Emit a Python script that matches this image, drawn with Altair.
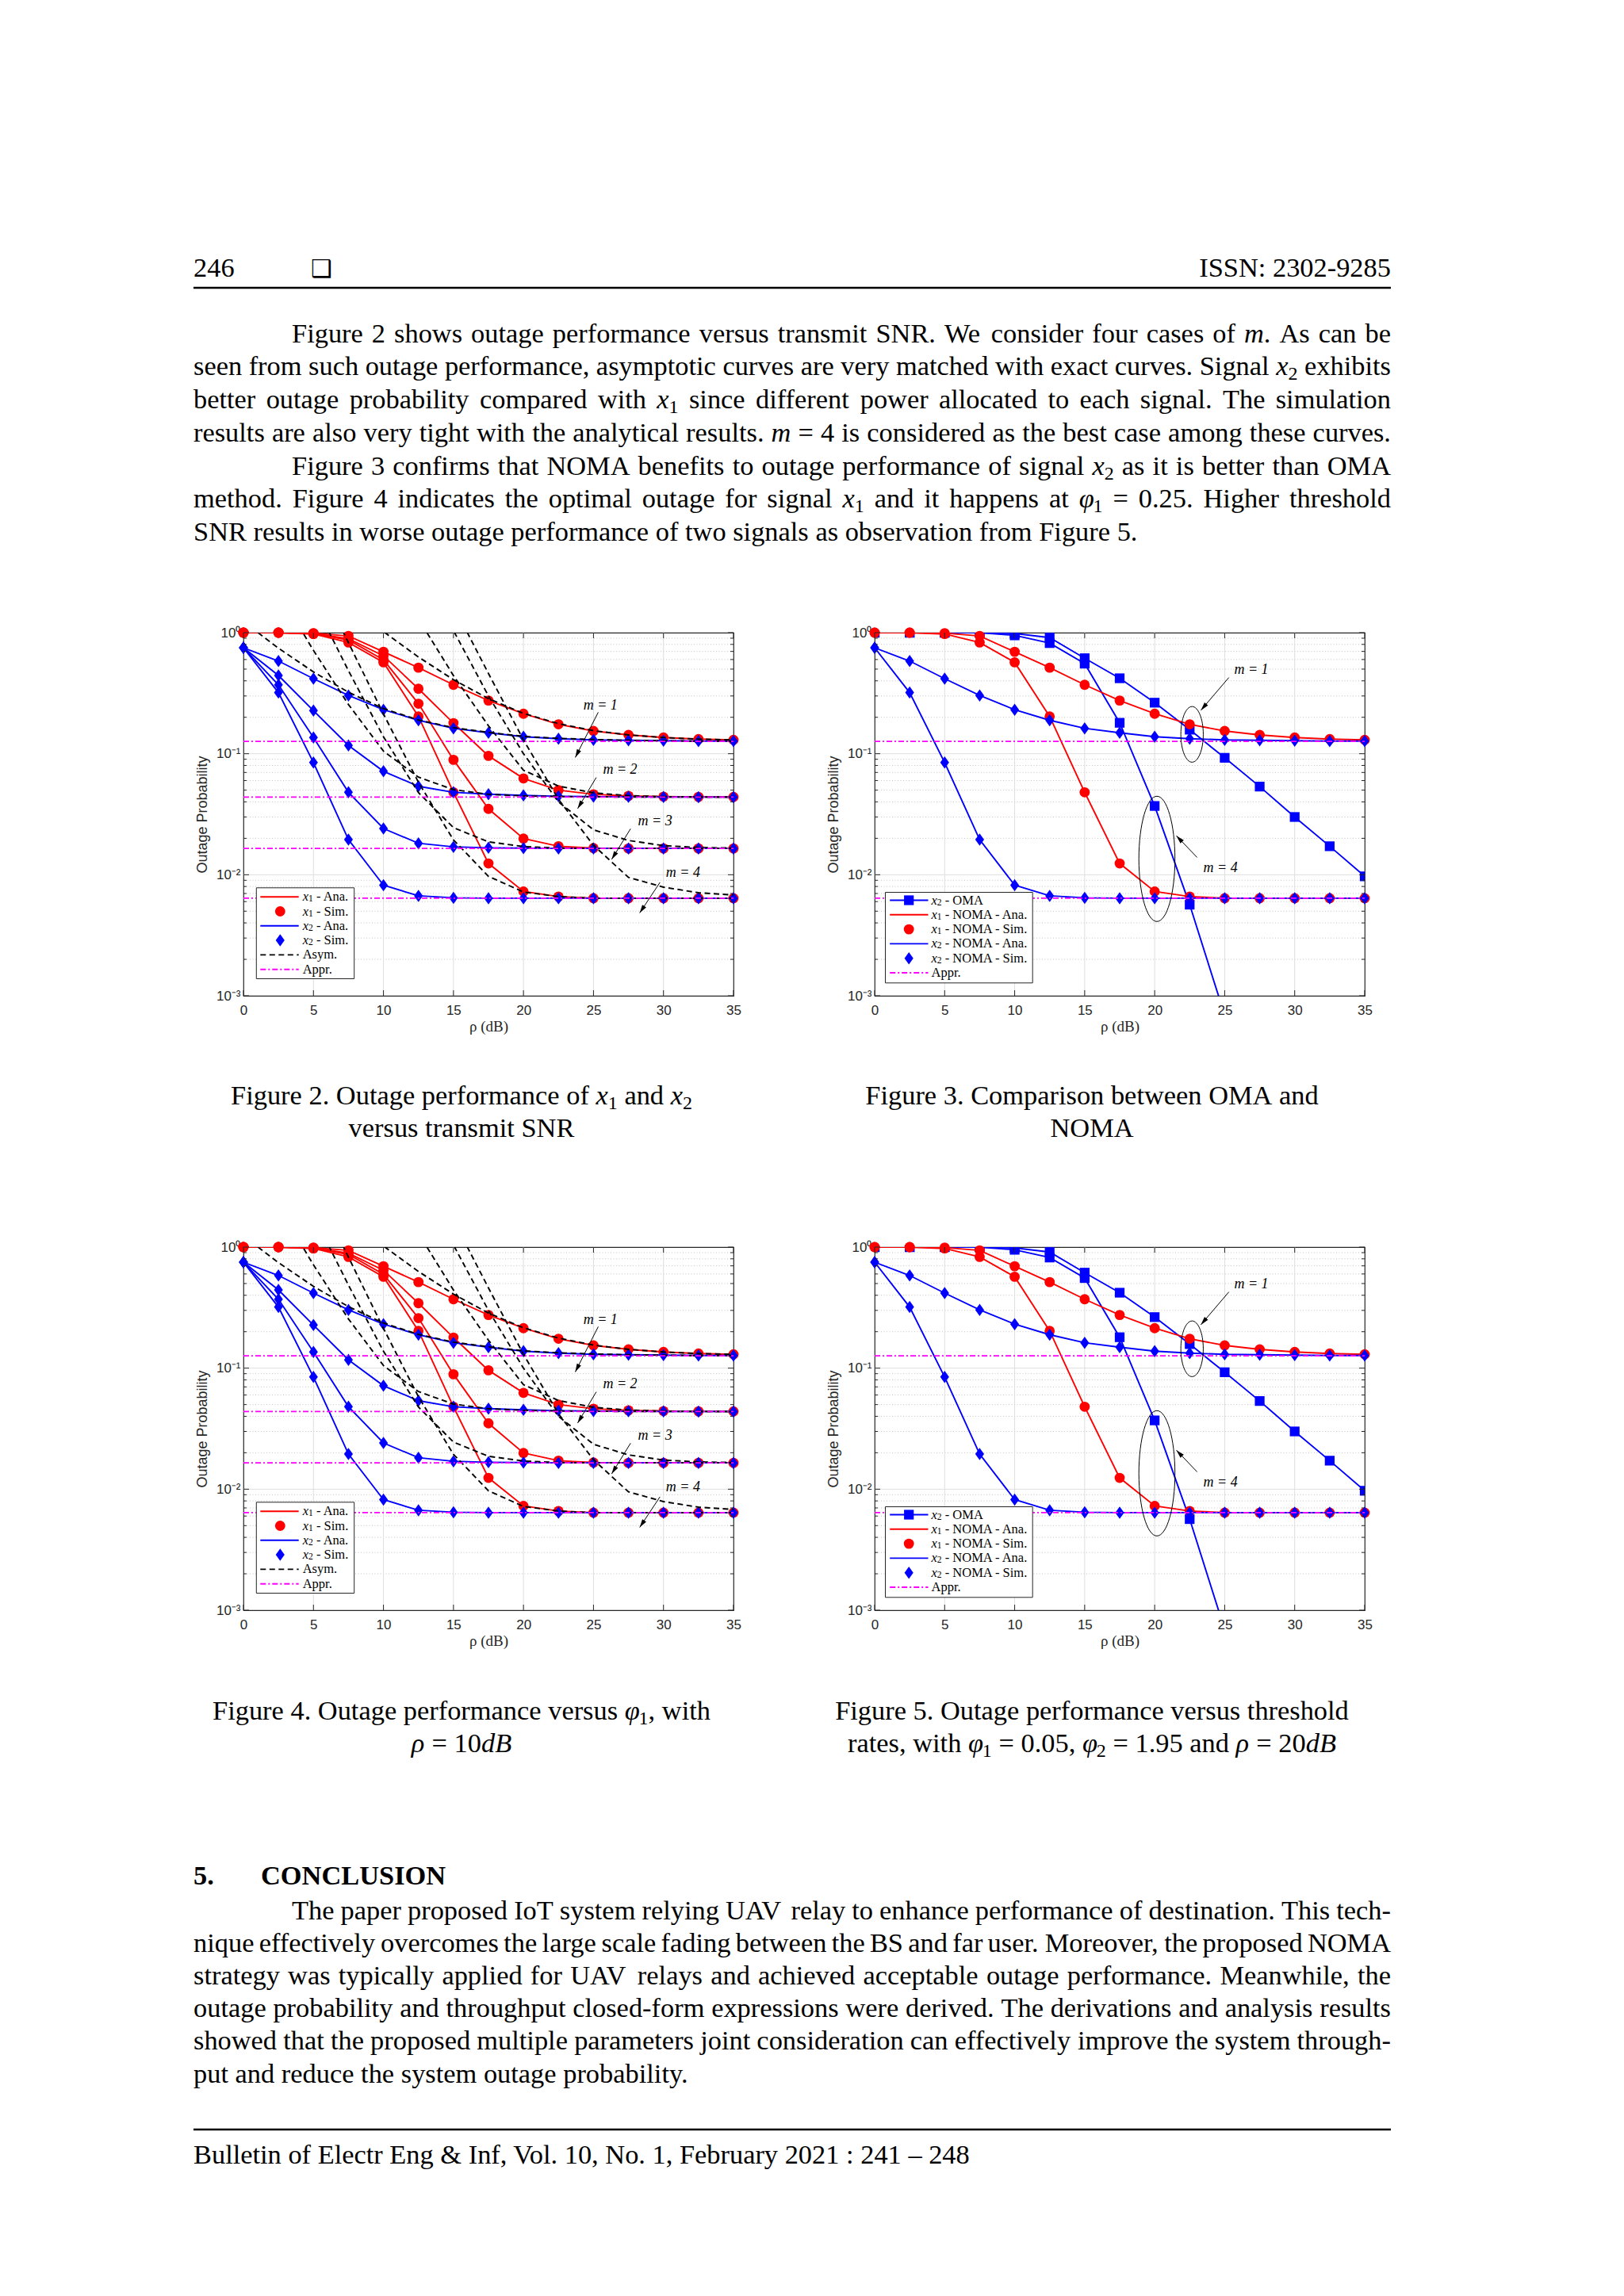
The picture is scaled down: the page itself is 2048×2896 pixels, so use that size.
import re
import math
import pandas as pd
import altair as alt

# ------------------------------------------------------------------ data
RHO = [0, 2.5, 5, 7.5, 10, 12.5, 15, 17.5, 20, 22.5, 25, 27.5, 30, 32.5, 35]
X_TICKS = [0, 5, 10, 15, 20, 25, 30, 35]
Y_TICKS = [0.001, 0.01, 0.1, 1]
Y_MINOR = [k * 10.0 ** e for e in (-3, -2, -1) for k in range(2, 10)]

# Figure 2 / 4 : x1 and x2, m = 1..4
X1_M1 = [1.0, 1.0, 0.99, 0.94, 0.695, 0.514, 0.371, 0.275, 0.214, 0.175, 0.154, 0.143, 0.136, 0.132, 0.130]
X1_M2 = [1.0, 1.0, 0.985, 0.89, 0.644, 0.344, 0.179, 0.096, 0.0625, 0.050, 0.0462, 0.0448, 0.0442, 0.0440, 0.0439]
X1_M3 = [1.0, 1.0, 0.98, 0.87, 0.597, 0.259, 0.089, 0.035, 0.0199, 0.0172, 0.0166, 0.0165, 0.0165, 0.0165, 0.0165]
X1_M4 = [1.0, 1.0, 0.975, 0.83, 0.569, 0.203, 0.048, 0.0124, 0.00727, 0.0066, 0.0064, 0.0064, 0.0064, 0.0064, 0.0064]
X2_M1 = [0.75, 0.583, 0.417, 0.303, 0.231, 0.189, 0.162, 0.149, 0.138, 0.133, 0.130, 0.129, 0.128, 0.127, 0.127]
X2_M2 = [0.75, 0.443, 0.227, 0.117, 0.0716, 0.0538, 0.048, 0.0463, 0.0452, 0.0445, 0.0442, 0.0440, 0.0439, 0.0438, 0.0438]
X2_M3 = [0.75, 0.371, 0.136, 0.048, 0.0241, 0.0182, 0.0170, 0.0167, 0.0166, 0.0165, 0.0165, 0.0165, 0.0165, 0.0165, 0.0165]
X2_M4 = [0.75, 0.32, 0.0845, 0.0195, 0.0082, 0.0067, 0.00645, 0.0064, 0.0064, 0.0064, 0.0064, 0.0064, 0.0064, 0.0064, 0.0064]
ASYM_X1_M1 = [9.1, 5.2, 2.96, 1.72, 1.02, 0.629, 0.409, 0.285, 0.2155, 0.177, 0.155, 0.143, 0.136, 0.132, 0.130]
ASYM_X1_M2 = [400, 126, 40, 12.6, 4.0, 1.30, 0.442, 0.170, 0.073, 0.054, 0.0475, 0.0450, 0.0442, 0.0439, 0.0438]
ASYM_X1_M3 = [1500, 450, 130, 40, 12, 3.6, 1.04, 0.30, 0.10, 0.040, 0.0235, 0.0192, 0.0174, 0.0168, 0.0166]
ASYM_X1_M4 = [3500, 1000, 300, 80, 22, 6.0, 1.67, 0.46, 0.13, 0.042, 0.0175, 0.0095, 0.0079, 0.0071, 0.0068]
ASYM_X2_M1 = [1.23, 0.745, 0.474, 0.322, 0.236, 0.190, 0.164, 0.150, 0.139, 0.134, 0.131, 0.129, 0.128, 0.127, 0.127]
ASYM_X2_M2 = [6.75, 2.16, 0.714, 0.255, 0.105, 0.064, 0.0505, 0.0462, 0.0448, 0.0443, 0.0440, 0.0439, 0.0438, 0.0438, 0.0438]
ASYM_X2_M3 = [27.0, 7.0, 1.83, 0.485, 0.138, 0.0477, 0.0245, 0.0187, 0.0171, 0.0166, 0.0165, 0.0165, 0.0165, 0.0165, 0.0165]
ASYM_X2_M4 = [52.0, 13.0, 3.28, 0.826, 0.213, 0.058, 0.0194, 0.0097, 0.0072, 0.0066, 0.0064, 0.0064, 0.0064, 0.0064, 0.0064]
FLOORS_F2 = [0.1265, 0.0438, 0.0165, 0.0064]

# Figure 3 / 5 : OMA vs NOMA, m = 1 and m = 4
OMA_M1 = [1.0, 1.0, 1.0, 1.0, 0.985, 0.91, 0.615, 0.42, 0.264, 0.158, 0.0925, 0.0535, 0.030, 0.0172, 0.0097]
OMA_M4 = [1.0, 1.0, 1.0, 1.0, 0.95, 0.82, 0.555, 0.18, 0.037, 0.00566, 0.00069]
FLOORS_F3 = [0.1265, 0.0064]

# annotations (label position, arrow start, arrow end)
F2_NOTES = [
    ("m = 1", 25.5, 0.251, 25.34, 0.220, 23.7, 0.0931),
    ("m = 2", 26.9, 0.0738, 25.2, 0.0637, 23.87, 0.0352),
    ("m = 3", 29.4, 0.0278, 27.65, 0.024, 26.3, 0.0134),
    ("m = 4", 31.4, 0.0103, 29.75, 0.00865, 28.3, 0.00483),
]
F3_NOTES = [
    ("m = 1", 26.9, 0.491, 25.3, 0.426, 23.3, 0.2285),
    ("m = 4", 24.7, 0.01127, 23.03, 0.0139, 21.55, 0.021),
]
F3_ELLIPSES = [(22.67, 0.1445, 70.2, 0.403), (20.16, 0.01353, 158.0, 0.288)]

# page text
HEADER_LEFT = "246"
HEADER_SYMBOL = "❑"
HEADER_RIGHT = "ISSN: 2302-9285"
PARA1 = [
    (True, True, "Figure 2 shows outage performance versus transmit SNR. We consider four cases of [i:m]. As can be"),
    (False, True, "seen from such outage performance, asymptotic curves are very matched with exact curves. Signal [i:x][s:2] exhibits"),
    (False, True, "better outage probability compared with [i:x][s:1] since different power allocated to each signal. The simulation"),
    (False, True, "results are also very tight with the analytical results. [i:m] = 4 is considered as the best case among these curves."),
    (True, True, "Figure 3 confirms that NOMA benefits to outage performance of signal [i:x][s:2] as it is better than OMA"),
    (False, True, "method. Figure 4 indicates the optimal outage for signal [i:x][s:1] and it happens at [i:φ][s:1] = 0.25. Higher threshold"),
    (False, False, "SNR results in worse outage performance of two signals as observation from Figure 5."),
]
CAPTIONS = [
    (582, 1393, "Figure 2. Outage performance of [i:x][s:1] and [i:x][s:2]"),
    (582, 1434, "versus transmit SNR"),
    (1377, 1393, "Figure 3. Comparison between OMA and"),
    (1377, 1434, "NOMA"),
    (582, 2169, "Figure 4. Outage performance versus [i:φ][s:1], with"),
    (582, 2210, "[i:ρ] = 10[i:dB]"),
    (1377, 2169, "Figure 5. Outage performance versus threshold"),
    (1377, 2210, "rates, with [i:φ][s:1] = 0.05, [i:φ][s:2] = 1.95 and [i:ρ] = 20[i:dB]"),
]
SECTION_NUM = "5."
SECTION_TITLE = "CONCLUSION"
CONCL = [
    (True, True, "The paper proposed IoT system relying UAV relay to enhance performance of destination. This tech-"),
    (False, True, "nique effectively overcomes the large scale fading between the BS and far user. Moreover, the proposed NOMA"),
    (False, True, "strategy was typically applied for UAV relays and achieved acceptable outage performance. Meanwhile, the"),
    (False, True, "outage probability and throughput closed-form expressions were derived. The derivations and analysis results"),
    (False, True, "showed that the proposed multiple parameters joint consideration can effectively improve the system through-"),
    (False, False, "put and reduce the system outage probability."),
]
FOOTER = "Bulletin of Electr Eng & Inf, Vol. 10, No. 1, February 2021 : 241 – 248"

# ------------------------------------------------------------------ styling
SERIF = "Liberation Serif"
SANS = "Liberation Sans"
AX = "#262626"
FS = 34.4
SUB_SCALE = 0.7
SUB_DY = 6
LEFT, INDENT, RIGHT = 244, 368, 1754
PW, PH = 618, 458
RED, BLUE, MAG = "#ff0000", "#0000ff", "#ff00ff"
LW = 1.9
DASH = [7, 4.5]
DASHDOT = [7, 3, 2, 3]
MAJOR_C = "#dedede"
MINOR_C = "#c4c4c4"
DIAMOND = "M0,-1L0.72,0L0,1L-0.72,0Z"
ARROW = "M0,0L0.28,1L-0.28,1Z"

REG = {' ': 250, ',': 250, '.': 250, ':': 278, ';': 278, '-': 333, '–': 500, '&': 778,
       '(': 333, ')': 333, '=': 564, '+': 564}
REG.update({d: 500 for d in "0123456789"})
REG.update(dict(zip("ABCDEFGHIJKLMNOPQRSTUVWXYZ",
                    [722, 667, 667, 722, 611, 556, 722, 722, 333, 389, 722, 611, 889, 722, 722, 556, 722, 667, 556,
                     611, 722, 722, 944, 722, 722, 611])))
REG.update(dict(zip("abcdefghijklmnopqrstuvwxyz",
                    [444, 500, 444, 500, 444, 333, 500, 500, 278, 278, 500, 278, 778, 500, 500, 500, 500, 333, 389,
                     278, 500, 500, 722, 500, 500, 444])))
ITA = dict(REG)
ITA.update(dict(zip("abcdefghijklmnopqrstuvwxyz",
                    [500, 500, 444, 500, 444, 278, 500, 500, 278, 278, 444, 278, 722, 500, 500, 500, 500, 389, 389,
                     278, 500, 444, 667, 444, 444, 389])))
ITA.update({'B': 611, 'φ': 520, 'ρ': 500})
BLD = dict(REG)
BLD.update(dict(zip("ABCDEFGHIJKLMNOPQRSTUVWXYZ",
                    [722, 667, 722, 722, 667, 611, 778, 778, 389, 500, 778, 667, 944, 722, 778, 611, 778, 722, 556,
                     667, 722, 722, 1000, 722, 722, 667])))
TABLES = {'r': REG, 'i': ITA, 'b': BLD, 's': REG}


def seg_w(t, s, fs):
    sc = SUB_SCALE if s == 's' else 1.0
    return sum(TABLES[s].get(c, 500) for c in t) / 1000.0 * fs * sc


def parse_word(w):
    segs = []
    for m in re.finditer(r"\[(i|s|b):([^\]]*)\]|([^\[]+)", w):
        if m.group(3):
            segs.append((m.group(3), 'r'))
        else:
            segs.append((m.group(2), m.group(1)))
    return segs


ROWS = []


def emit(segs, x, base, fs=FS):
    for t, s in segs:
        ROWS.append({'x': x - 8, 'y': base - 8 + (SUB_DY if s == 's' else 0), 'text': t, 'style': s})
        x += seg_w(t, s, fs)


def place_line(line, x0, x1, base, justify):
    words = [parse_word(w) for w in line.split(' ')]
    ws = [sum(seg_w(t, s, FS) for t, s in w) for w in words]
    gap = (x1 - x0 - sum(ws)) / (len(words) - 1) if (justify and len(words) > 1) else 0.25 * FS
    x = x0
    for w, wd in zip(words, ws):
        emit(w, x, base)
        x += wd + gap


def place_center(line, cx, base):
    words = [parse_word(w) for w in line.split(' ')]
    ws = [sum(seg_w(t, s, FS) for t, s in w) for w in words]
    gap = 0.25 * FS
    total = sum(ws) + gap * (len(words) - 1)
    x = cx - total / 2
    for w, wd in zip(words, ws):
        emit(w, x, base)
        x += wd + gap


# header
emit([(HEADER_LEFT, 'r')], LEFT, 349)
ROWS.append({'x': 392 - 8, 'y': 349 - 8, 'text': HEADER_SYMBOL, 'style': 'sym'})
emit([(HEADER_RIGHT, 'r')], RIGHT - seg_w(HEADER_RIGHT, 'r', FS), 349)
for i, (ind, just, line) in enumerate(PARA1):
    place_line(line, INDENT if ind else LEFT, RIGHT, 431.5 + 41.75 * i, just)
for cx, base, line in CAPTIONS:
    place_center(line, cx, base)
emit([(SECTION_NUM, 'b')], LEFT, 2377)
emit([(SECTION_TITLE, 'b')], 329, 2377)
for i, (ind, just, line) in enumerate(CONCL):
    place_line(line, INDENT if ind else LEFT, RIGHT, 2421 + 41.1 * i, just)
emit([(FOOTER, 'r')], LEFT, 2729)

text_df = pd.DataFrame(ROWS)
rules_df = pd.DataFrame({'x': [LEFT - 8, LEFT - 8], 'x2': [RIGHT - 8, RIGHT - 8], 'y': [363 - 8, 2686 - 8]})

PX = alt.X('x:Q', scale=None)
PY = alt.Y('y:Q', scale=None)
STYLE_MARKS = {
    'r': dict(font=SERIF, fontSize=FS),
    'i': dict(font=SERIF, fontSize=FS, fontStyle='italic'),
    'b': dict(font=SERIF, fontSize=FS, fontWeight='bold'),
    's': dict(font=SERIF, fontSize=FS * SUB_SCALE),
    'sym': dict(font="DejaVu Sans", fontSize=30),
}
page_layers = [alt.Chart(rules_df).mark_rule(color='black', strokeWidth=2.5).encode(x=PX, x2='x2:Q', y=PY)]
for st, kw in STYLE_MARKS.items():
    page_layers.append(
        alt.Chart(text_df).transform_filter(alt.datum.style == st)
        .mark_text(align='left', baseline='alphabetic', color='black', **kw)
        .encode(x=PX, y=PY, text='text:N'))
page = alt.layer(*page_layers).properties(width=299, height=790)

# ------------------------------------------------------------------ plots
XS = alt.Scale(domain=[0, 35], nice=False, zero=False)
YS = alt.Scale(type='log', domain=[0.001, 1], nice=False)
XAX = alt.Axis(values=X_TICKS, title='ρ (dB)', grid=False, ticks=False, tickSize=0, domain=False,
               labelFont=SANS, labelFontSize=17, labelColor=AX, labelPadding=10, labelFlush=False,
               labelOverlap=False, titleFont=SERIF, titleFontSize=19, titleFontWeight='normal',
               titleColor=AX, titleY=38, titleBaseline='middle')
YAX = alt.Axis(values=Y_TICKS, title='Outage Probability', grid=False, ticks=False, tickSize=0, domain=False,
               labelExpr="datum.value >= 0.9 ? '10⁰' : datum.value >= 0.09 ? '10⁻¹' : datum.value >= 0.009 ? '10⁻²' : '10⁻³'",
               labelFont=SANS, labelFontSize=17, labelColor=AX, labelPadding=4, labelFlush=False,
               labelOverlap=False, titleFont=SANS, titleFontSize=18, titleFontWeight='normal',
               titleColor=AX, titleX=-52, titleY=PH / 2, titleAngle=270, titleBaseline='middle')
X = alt.X('rho:Q', scale=XS, axis=XAX)
Y = alt.Y('P:Q', scale=YS, axis=YAX)
ONE = pd.DataFrame({'a': [0]})
MK = {'circle': ('circle', 165), 'diamond': (DIAMOND, 240), 'square': ('square', 150)}
LFS = 16.5


def long_df(series, xs=RHO):
    rows = []
    for name, vals in series:
        for r, p in zip(xs, vals):
            rows.append({'rho': r, 'P': p, 'curve': name})
    return pd.DataFrame(rows)


def appr_df(floors):
    return pd.DataFrame([{'rho': r, 'P': f, 'curve': str(i)} for i, f in enumerate(floors) for r in (0, 35)])


def line_layer(df, color, dash=None, clip=True):
    kw = dict(color=color, strokeWidth=LW, clip=clip)
    if dash:
        kw['strokeDash'] = dash
    return alt.Chart(df).mark_line(**kw).encode(x=X, y=Y, detail='curve:N')


def point_layer(df, marker, color, clip=False):
    shape, size = MK[marker]
    return alt.Chart(df).mark_point(shape=shape, size=size, filled=True, color=color, opacity=1,
                                    strokeWidth=0, clip=clip).encode(x=X, y=Y)


def grid_layers():
    return [
        alt.Chart(pd.DataFrame({'P': Y_MINOR})).mark_rule(color=MINOR_C, strokeWidth=1, strokeDash=[1, 2.5]).encode(y=Y),
        alt.Chart(pd.DataFrame({'P': [0.01, 0.1]})).mark_rule(color=MAJOR_C, strokeWidth=1).encode(y=Y),
        alt.Chart(pd.DataFrame({'rho': X_TICKS[1:-1]})).mark_rule(color=MAJOR_C, strokeWidth=1).encode(x=X),
    ]


def tick_layers():
    L = []
    xt = pd.DataFrame({'rho': X_TICKS})
    yt = pd.DataFrame({'P': Y_TICKS})
    ym = pd.DataFrame({'P': Y_MINOR})
    for yv in (PH - 3.5, 3.5):
        L.append(alt.Chart(xt).mark_tick(orient='vertical', size=7, thickness=1, color=AX, opacity=1)
                 .encode(x=X, y=alt.value(yv)))
    for xv in (3.5, PW - 3.5):
        L.append(alt.Chart(yt).mark_tick(orient='horizontal', size=7, thickness=1, color=AX, opacity=1)
                 .encode(y=Y, x=alt.value(xv)))
    for xv in (2, PW - 2):
        L.append(alt.Chart(ym).mark_tick(orient='horizontal', size=4, thickness=1, color=AX, opacity=1)
                 .encode(y=Y, x=alt.value(xv)))
    return L


def note_layers(notes):
    lab = pd.DataFrame([{'rho': n[1], 'P': n[2], 't': n[0]} for n in notes])
    arr = pd.DataFrame([{'rho': n[3], 'P': n[4], 'rho2': n[5], 'P2': n[6]} for n in notes])
    heads = []
    for n in notes:
        dx = (n[5] - n[3]) / 35.0 * PW
        dy = -(math.log10(n[6]) - math.log10(n[4])) / 3.0 * PH
        ang = math.degrees(math.atan2(dx, -dy)) % 360
        heads.append({'rho': n[5], 'P': n[6], 'ang': ang})
    heads = pd.DataFrame(heads)
    return [
        alt.Chart(arr).mark_rule(color='black', strokeWidth=1).encode(x=X, y=Y, x2='rho2:Q', y2='P2:Q'),
        alt.Chart(heads).mark_point(shape=ARROW, size=440, filled=True, color='black', opacity=1, strokeWidth=0)
        .encode(x=X, y=Y, angle=alt.Angle('ang:Q', scale=None)),
        alt.Chart(lab).mark_text(font=SERIF, fontStyle='italic', fontSize=18, color='black')
        .encode(x=X, y=Y, text='t:N'),
    ]


def legend_layers(entries, box, row0, line_x, mark_x, text_x):
    L = [alt.Chart(ONE).mark_rect(fill='white', stroke=AX, strokeWidth=1)
         .encode(x=alt.value(box[0]), x2=alt.value(box[1]), y=alt.value(box[2]), y2=alt.value(box[3]))]
    for i, (segs, line, marker) in enumerate(entries):
        yy = row0 + 18.3 * i
        if line:
            kw = dict(color=line[0], strokeWidth=LW)
            if line[1]:
                kw['strokeDash'] = line[1]
            L.append(alt.Chart(ONE).mark_rule(**kw)
                     .encode(x=alt.value(line_x[0]), x2=alt.value(line_x[1]), y=alt.value(yy)))
        if marker:
            shape, size = MK[marker[0]]
            L.append(alt.Chart(ONE).mark_point(shape=shape, size=size, filled=True, color=marker[1],
                                               opacity=1, strokeWidth=0)
                     .encode(x=alt.value(mark_x), y=alt.value(yy)))
        x = text_x
        for t, s in segs:
            fs = LFS * SUB_SCALE if s == 's' else LFS
            stripped = t.lstrip(' ')
            x += seg_w(t[:len(t) - len(stripped)], s, LFS)
            kw = dict(font=SERIF, fontSize=fs, align='left', baseline='middle', color='black')
            if s == 'i':
                kw['fontStyle'] = 'italic'
            L.append(alt.Chart(ONE).mark_text(**kw)
                     .encode(x=alt.value(x), y=alt.value(yy + (3 if s == 's' else 0)), text=alt.value(stripped)))
            x += seg_w(stripped, s, LFS)
    return L


FRAME = alt.ViewBackground(stroke=AX, strokeWidth=1.2)


def make_fig2():
    x1 = long_df([('1', X1_M1), ('2', X1_M2), ('3', X1_M3), ('4', X1_M4)])
    x2 = long_df([('1', X2_M1), ('2', X2_M2), ('3', X2_M3), ('4', X2_M4)])
    asym = long_df([('a1', ASYM_X1_M1), ('a2', ASYM_X1_M2), ('a3', ASYM_X1_M3), ('a4', ASYM_X1_M4),
                    ('b1', ASYM_X2_M1), ('b2', ASYM_X2_M2), ('b3', ASYM_X2_M3), ('b4', ASYM_X2_M4)])
    L = grid_layers()
    L += [line_layer(x1, RED), point_layer(x1, 'circle', RED),
          line_layer(x2, BLUE), point_layer(x2, 'diamond', BLUE),
          line_layer(asym, 'black', DASH), line_layer(appr_df(FLOORS_F2), MAG, DASHDOT)]
    L += tick_layers()
    L += note_layers(F2_NOTES)
    entries = [
        ([('x', 'i'), ('1', 's'), (' - Ana.', 'r')], (RED, None), None),
        ([('x', 'i'), ('1', 's'), (' - Sim.', 'r')], None, ('circle', RED)),
        ([('x', 'i'), ('2', 's'), (' - Ana.', 'r')], (BLUE, None), None),
        ([('x', 'i'), ('2', 's'), (' - Sim.', 'r')], None, ('diamond', BLUE)),
        ([('Asym.', 'r')], ('black', DASH), None),
        ([('Appr.', 'r')], (MAG, DASHDOT), None),
    ]
    L += legend_layers(entries, (16.3, 139.7, 321.8, 436.5), 333.2, (21.3, 69.7), 46.3, 74.7)
    return alt.layer(*L).properties(width=PW, height=PH, view=FRAME)


def make_fig3():
    oma = long_df([('o1', OMA_M1), ('o4', OMA_M4)])
    x1 = long_df([('1', X1_M1), ('4', X1_M4)])
    x2 = long_df([('1', X2_M1), ('4', X2_M4)])
    L = grid_layers()
    L += [line_layer(oma, BLUE), point_layer(oma, 'square', BLUE, clip=True),
          line_layer(x1, RED), point_layer(x1, 'circle', RED),
          line_layer(x2, BLUE), point_layer(x2, 'diamond', BLUE),
          line_layer(appr_df(FLOORS_F3), MAG, DASHDOT)]
    L += tick_layers()
    k = 0.5523
    for (cx, cy, h, a) in F3_ELLIPSES:
        path = (f"M{a},0C{a},{k} {a * k},1 0,1C{-a * k},1 {-a},{k} {-a},0"
                f"C{-a},{-k} {-a * k},-1 0,-1C{a * k},-1 {a},{-k} {a},0Z")
        L.append(alt.Chart(pd.DataFrame({'rho': [cx], 'P': [cy]}))
                 .mark_point(shape=path, size=h * h, filled=False, stroke='black', strokeWidth=1, opacity=1)
                 .encode(x=X, y=Y))
    L += note_layers(F3_NOTES)
    entries = [
        ([('x', 'i'), ('2', 's'), (' - OMA', 'r')], (BLUE, None), ('square', BLUE)),
        ([('x', 'i'), ('1', 's'), (' - NOMA - Ana.', 'r')], (RED, None), None),
        ([('x', 'i'), ('1', 's'), (' - NOMA - Sim.', 'r')], None, ('circle', RED)),
        ([('x', 'i'), ('2', 's'), (' - NOMA - Ana.', 'r')], (BLUE, None), None),
        ([('x', 'i'), ('2', 's'), (' - NOMA - Sim.', 'r')], None, ('diamond', BLUE)),
        ([('Appr.', 'r')], (MAG, DASHDOT), None),
    ]
    L += legend_layers(entries, (13.5, 199.2, 327.5, 441.8), 337.5, (19.2, 67.5), 43.2, 71.5)
    return alt.layer(*L).properties(width=PW, height=PH, view=FRAME)


def spacer(w, h):
    return alt.Chart(ONE).mark_text().encode(x=alt.value(w / 2), y=alt.value(h / 2), text=alt.value('')) \
        .properties(width=w, height=h)


# a 4-column grid: [left margin, left figure, gutter, right figure]
cells = [
    page, spacer(PW, 790), spacer(178, 790), spacer(PW, 790),
    spacer(299, PH), make_fig2(), spacer(178, PH), make_fig3(),
    spacer(299, 317), spacer(PW, 317), spacer(178, 317), spacer(PW, 317),
    spacer(299, PH), make_fig2(), spacer(178, PH), make_fig3(),
]

chart = alt.concat(*cells, columns=4, spacing=0, bounds='flush') \
    .properties(padding=0, background='white') \
    .configure_view(strokeWidth=0)

chart.save("out.html", embed_options={"renderer": "svg", "actions": False})
